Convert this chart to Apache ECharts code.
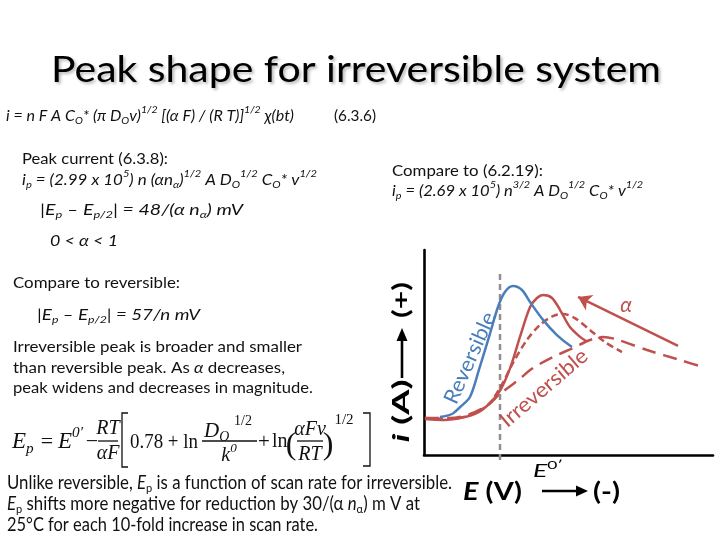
<!DOCTYPE html>
<html><head><meta charset="utf-8">
<script src="https://cdn.jsdelivr.net/npm/echarts@6/dist/echarts.min.js"></script>
<style>html,body{margin:0;padding:0;background:#fff}#c{width:720px;height:540px}</style>
</head><body><div id="c"></div>
<script>
// ---------- data (x: potential, 0-100 toward negative; y: current, 0-100) ----------
const revX  = [5.5, 9.7, 12.5, 15.9, 19.0, 22.5, 25.6, 28.0, 30.8, 33.9, 36.7, 41.2, 46.0, 51.2];
const revY  = [18.5, 20.0, 23.4, 28.3, 41.5, 57.6, 72.2, 79.5, 82.4, 80.5, 74.6, 65.9, 58.5, 52.7];
const irrAX = [0.3, 7.3, 14.2, 20.1, 26.0, 29.8, 33.2, 36.7, 39.1, 41.2, 44.3, 47.1, 50.5, 54.0, 56.1];
const irrAY = [17.6, 17.1, 18.5, 22.0, 30.7, 42.4, 57.6, 72.2, 76.6, 78.0, 76.6, 70.7, 62.4, 57.6, 55.6];
const irrBX = [0.3, 9.0, 15.9, 22.1, 26.3, 30.8, 35.6, 40.1, 44.6, 48.1, 52.2, 57.4, 62.6, 68.5];
const irrBY = [18.0, 17.6, 19.5, 24.4, 32.7, 44.9, 56.1, 63.4, 67.8, 68.8, 66.8, 61.0, 55.1, 50.2];
const irrCX = [0.3, 9.0, 15.9, 22.1, 26.3, 32.2, 37.7, 44.6, 51.6, 57.4, 61.9, 66.1, 77.2, 88.6, 96.5];
const irrCY = [18.0, 18.0, 20.0, 24.4, 29.8, 36.1, 42.4, 47.8, 52.2, 56.1, 57.6, 56.6, 51.2, 46.3, 42.9];
const e0X = 26.3;
const e0Span = [-2.4, 88.8];
const alphaFrom = [87.9, 53.2];
const alphaTo = [53.3, 77.1];
const labels = {rev: 'Reversible', irr: 'Irreversible', alpha: 'α'};

const BLUE = '#4A7EBB', RED = '#C0504D', GRAY = '#8f8f8f';
const pairs = (xs, ys) => xs.map((x, i) => [x, ys[i]]);

// ---------- text helpers ----------
const ctx = document.createElement('canvas').getContext('2d');
function parse(src) {
  const out = []; const re = /([_^~])\{([^}]*)\}/g; let last = 0, m;
  while ((m = re.exec(src))) {
    if (m.index > last) out.push({t: src.slice(last, m.index), k: 'n'});
    out.push({t: m[2], k: {'_': 'b', '^': 'p', '~': 'i'}[m[1]]});
    last = re.lastIndex;
  }
  if (last < src.length) out.push({t: src.slice(last), k: 'n'});
  return out.filter(g => g.t.length);
}
const G = [];
function textEl(src, x, y, o) {
  o = Object.assign({size: 16, family: 'Lato', italic: false, weight: 'normal', color: '#111', align: 'left', rot: 0}, o || {});
  const segs = parse(src);
  const s = o.size, small = Math.round(s * 0.66 * 10) / 10, lh = Math.round(s * 1.5);
  const fam = o.family;
  const def = {n: {it: o.italic, fs: s}, i: {it: true, fs: s}, b: {it: o.italic, fs: small}, p: {it: o.italic, fs: small}};
  let w = 0;
  for (const g of segs) {
    const d = def[g.k];
    ctx.font = (d.it ? 'italic ' : '') + o.weight + ' ' + d.fs + 'px ' + fam;
    w += ctx.measureText(g.t).width;
  }
  const base = {fontFamily: fam, fontWeight: o.weight, fill: o.color, color: o.color};
  if (o.shadow) Object.assign(base, {textShadowColor: 'rgba(0,0,0,0.28)', textShadowBlur: 3, textShadowOffsetX: 2, textShadowOffsetY: 2});
  const fs = o.italic ? 'italic' : 'normal';
  const rich = {
    n: Object.assign({}, base, {fontSize: s, fontStyle: fs, lineHeight: lh}),
    i: Object.assign({}, base, {fontSize: s, fontStyle: 'italic', lineHeight: lh}),
    b: Object.assign({}, base, {fontSize: small, fontStyle: fs, lineHeight: lh, verticalAlign: 'bottom', height: lh - 0.6 * s}),
    p: Object.assign({}, base, {fontSize: small, fontStyle: fs, lineHeight: lh, verticalAlign: 'top', height: lh - 0.76 * s})
  };
  const el = {
    type: 'text', x: x, y: y, rotation: o.rot, z: 100, silent: true,
    style: Object.assign({}, base, {
      text: segs.map(g => '{' + g.k + '|' + g.t + '}').join(''), rich: rich,
      fontSize: s, align: o.align, verticalAlign: 'middle', textAlign: o.align, textVerticalAlign: 'middle'
    })
  };
  if (o.width) el.scaleX = o.width / w;
  G.push(el);
}
function seg(x1, y1, x2, y2, w, c) {
  G.push({type: 'line', z: 100, silent: true, shape: {x1, y1, x2, y2}, style: {stroke: c || '#111', lineWidth: w || 1.3}});
}
function poly(points, w) {
  G.push({type: 'polyline', z: 100, silent: true, shape: {points}, style: {stroke: '#111', fill: null, lineWidth: w || 1.3}});
}
function head(points, c) {
  G.push({type: 'polygon', z: 100, silent: true, shape: {points}, style: {fill: c || '#000'}});
}

// ---------- slide text ----------
textEl('Peak shape for irreversible system', 356, 70, {size: 36, align: 'center', width: 610, color: '#000', shadow: true});
textEl('i = n F A C_{O}* (π D_{O}v)^{1/2} [(α F) / (R T)]^{1/2} χ(bt)', 6, 116, {size: 15, italic: true, width: 288});
textEl('(6.3.6)', 334, 116, {size: 16, width: 42});
textEl('Peak current (6.3.8):', 22, 159, {size: 16, width: 146});
textEl('i_{p} = (2.99 x 10^{5}) n (αn_{α})^{1/2} A D_{O}^{1/2} C_{O}* v^{1/2}', 22, 180, {size: 15, italic: true, width: 295});
textEl('|E_{p} – E_{p/2}| = 48/(α n_{α}) mV', 40, 210, {size: 15, italic: true, width: 203});
textEl('0 < α < 1', 50, 241, {size: 15, italic: true, width: 68});
textEl('Compare to (6.2.19):', 392, 171, {size: 16, width: 151});
textEl('i_{p} = (2.69 x 10^{5}) n^{3/2} A D_{O}^{1/2} C_{O}* v^{1/2}', 392, 191, {size: 15, italic: true, width: 251});
textEl('Compare to reversible:', 13, 283, {size: 16, width: 167});
textEl('|E_{p} – E_{p/2}| = 57/n mV', 37, 315, {size: 15, italic: true, width: 163});
textEl('Irreversible peak is broader and smaller', 13, 347, {size: 16, width: 289});
textEl('than reversible peak. As ~{α} decreases,', 13, 368, {size: 16, width: 272});
textEl('peak widens and decreases in magnitude.', 13, 388, {size: 16, width: 300});
textEl('Unlike reversible, ~{E}_{p} is a function of scan rate for irreversible.', 7, 483, {size: 18.5, width: 445});
textEl('~{E}_{p} shifts more negative for reduction by 30/(α ~{n}_{α}) m V at', 7, 504, {size: 18.5, width: 413});
textEl('25°C for each 10-fold increase in scan rate.', 7, 525, {size: 18.5, width: 311});

// ---------- E_p equation ----------
const SF = 'Liberation Serif';
textEl('E_{p}', 12, 442, {family: SF, size: 23, italic: true});
textEl('=', 47, 442, {family: SF, size: 22, align: 'center'});
textEl('E^{0′}', 58, 442, {family: SF, size: 23, italic: true});
textEl('−', 92, 442, {family: SF, size: 22, align: 'center'});
textEl('RT', 108, 429, {family: SF, size: 20, italic: true, align: 'center'});
seg(98, 441, 118, 441);
textEl('αF', 108, 454, {family: SF, size: 20, italic: true, align: 'center'});
poly([[128, 413], [122, 413], [122, 467], [128, 467]]);
textEl('0.78 + ln', 130, 442, {family: SF, size: 21, width: 68});
textEl('D_{O}', 204, 431, {family: SF, size: 21, italic: true});
textEl('1/2', 243, 421, {family: SF, size: 14, align: 'center'});
seg(202, 441, 257, 441);
textEl('k^{0}', 229, 456, {family: SF, size: 20, italic: true, align: 'center'});
textEl('+', 264, 442, {family: SF, size: 21, align: 'center'});
textEl('ln', 272, 442, {family: SF, size: 20});
textEl('(', 291, 446, {family: SF, size: 32, align: 'center'});
textEl('αFv', 310, 430, {family: SF, size: 20, italic: true, align: 'center'});
seg(297, 441, 323, 441);
textEl('RT', 310, 455, {family: SF, size: 20, italic: true, align: 'center'});
textEl(')', 328, 446, {family: SF, size: 32, align: 'center'});
textEl('1/2', 344, 420, {family: SF, size: 15, align: 'center'});
poly([[363, 413], [370, 413], [370, 466], [363, 466]]);

// ---------- chart annotations ----------
textEl(labels.rev, 470, 358, {size: 21, color: BLUE, align: 'center', rot: 66 * Math.PI / 180, width: 98});
textEl(labels.irr, 544, 388, {size: 21, color: RED, align: 'center', rot: 40.5 * Math.PI / 180, width: 108});
textEl(labels.alpha, 626, 305, {size: 21, italic: true, color: RED, align: 'center'});
// y-axis caption
textEl('(+)', 402, 300, {size: 23, weight: 'bold', align: 'center', rot: Math.PI / 2, width: 36, color: '#000'});
textEl('~{i} (A)', 402, 411, {size: 23, weight: 'bold', align: 'center', rot: Math.PI / 2, width: 63, color: '#000'});
seg(402, 378, 402, 338, 2.6, '#000');
head([[402, 328], [396.5, 341], [407.5, 341]]);
// x-axis caption
textEl('~{E} (V)', 463, 492, {size: 25, weight: 'bold', width: 59, color: '#000'});
textEl('(-)', 593, 492, {size: 25, weight: 'bold', width: 27, color: '#000'});
textEl('~{E}^{0′}', 533, 472, {size: 17, width: 30, color: '#000'});
seg(542, 491, 578, 491, 2.6, '#000');
head([[588, 491], [576, 485.5], [576, 496.5]]);

// ---------- chart ----------
const chart = echarts.init(document.getElementById('c'), null, {renderer: 'canvas'});
const noAxisBits = {axisTick: {show: false}, axisLabel: {show: false}, splitLine: {show: false}};
chart.setOption({
  animation: false,
  backgroundColor: '#fff',
  grid: {left: 424, top: 250, width: 289, height: 205},
  xAxis: Object.assign({type: 'value', min: 0, max: 100, axisLine: {show: true, onZero: false, lineStyle: {color: '#000', width: 2.6}}}, noAxisBits),
  yAxis: Object.assign({type: 'value', min: 0, max: 100, axisLine: {show: true, onZero: false, lineStyle: {color: '#000', width: 2.6}}}, noAxisBits),
  series: [
    {type: 'line', data: [[e0X, e0Span[0]], [e0X, e0Span[1]]], clip: false, symbol: 'none', silent: true,
     lineStyle: {color: GRAY, width: 2.5, type: [6, 4]}, z: 1},
    {type: 'line', data: pairs(irrCX, irrCY), smooth: 0.3, symbol: 'none', silent: true,
     lineStyle: {color: RED, width: 2.5, type: [14, 8]}, z: 2},
    {type: 'line', data: pairs(irrBX, irrBY), smooth: 0.3, symbol: 'none', silent: true,
     lineStyle: {color: RED, width: 2.5, type: [7, 4]}, z: 2},
    {type: 'line', data: pairs(irrAX, irrAY), smooth: 0.3, symbol: 'none', silent: true,
     itemStyle: {color: RED}, lineStyle: {color: RED, width: 2.5}, z: 3,
     markLine: {silent: true, symbol: ['none', 'arrow'], symbolSize: 13, label: {show: false},
       itemStyle: {color: RED}, lineStyle: {color: RED, width: 2.5, type: 'solid'},
       data: [[{coord: alphaFrom}, {coord: alphaTo}]]}},
    {type: 'line', data: pairs(revX, revY), smooth: 0.3, symbol: 'none', silent: true,
     lineStyle: {color: BLUE, width: 2.5}, z: 4}
  ],
  graphic: G
});
</script>
</body></html>
